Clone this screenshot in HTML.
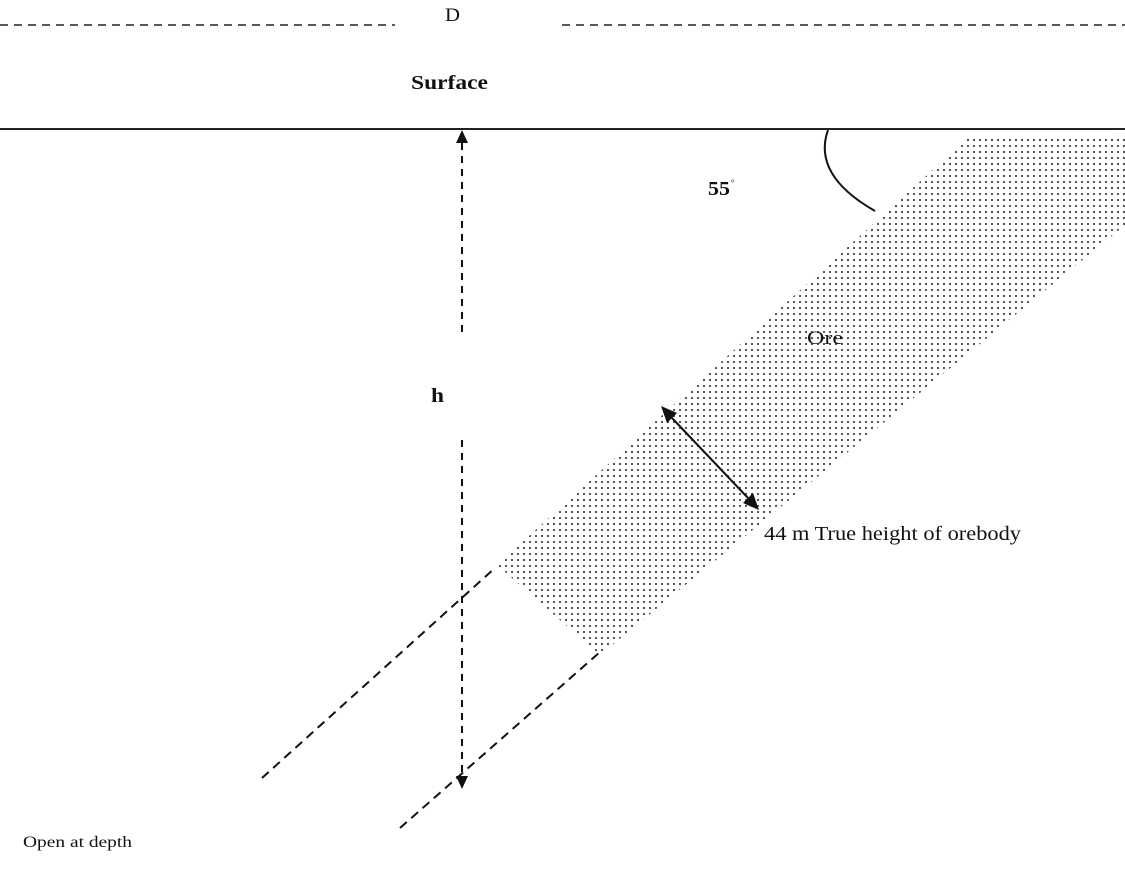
<!DOCTYPE html>
<html><head><style>
html,body{margin:0;padding:0;background:#fff;}
svg{display:block;}
text{font-family:"Liberation Serif",serif;fill:#111;}
</style></head><body>
<svg width="1125" height="896" viewBox="0 0 1125 896" xmlns="http://www.w3.org/2000/svg">
<defs>
<pattern id="dots" width="6" height="6" patternUnits="userSpaceOnUse">
<circle cx="2" cy="2" r="1.1" fill="#444"/>
</pattern>
</defs>
<!-- ore body -->
<polygon points="497,565 968,138 1125,135 1125,225 600,655" fill="url(#dots)"/>
<!-- top dashed -->
<line x1="0" y1="25" x2="395" y2="25" stroke="#222" stroke-width="1.5" stroke-dasharray="8,6"/>
<line x1="562" y1="25" x2="1125" y2="25" stroke="#222" stroke-width="1.5" stroke-dasharray="8,6"/>
<text x="445" y="21" font-size="19" textLength="15" lengthAdjust="spacingAndGlyphs">D</text>
<text x="411" y="89" font-size="20" font-weight="bold" textLength="77" lengthAdjust="spacingAndGlyphs">Surface</text>
<!-- surface line -->
<line x1="0" y1="129" x2="1125" y2="129" stroke="#222" stroke-width="2"/>
<!-- angle arc -->
<path d="M828,130 Q812,175 875,211" fill="none" stroke="#111" stroke-width="2"/>
<text x="708" y="195" font-size="20" font-weight="bold" textLength="22" lengthAdjust="spacingAndGlyphs">55</text>
<text x="731" y="186" font-size="9">°</text>
<!-- vertical h arrow -->
<line x1="462" y1="143" x2="462" y2="336" stroke="#111" stroke-width="2" stroke-dasharray="7,6"/>
<polygon points="462,130 456,143 468,143" fill="#111"/>
<line x1="462" y1="440" x2="462" y2="776" stroke="#111" stroke-width="2" stroke-dasharray="7,6"/>
<polygon points="462,789 456,776 468,776" fill="#111"/>
<text x="431" y="402" font-size="20" font-weight="bold" textLength="13" lengthAdjust="spacingAndGlyphs">h</text>
<!-- dashed extensions -->
<line x1="262" y1="778" x2="495" y2="568" stroke="#111" stroke-width="2" stroke-dasharray="9,6"/>
<line x1="400" y1="828" x2="600" y2="652" stroke="#111" stroke-width="2" stroke-dasharray="9,6"/>
<!-- true height arrow -->
<line x1="672" y1="418" x2="748" y2="498" stroke="#111" stroke-width="2"/>
<polygon points="661,406 677,413 667,423" fill="#111"/>
<polygon points="759,510 743,503 753,493" fill="#111"/>
<text x="807" y="344" font-size="19" textLength="36" lengthAdjust="spacingAndGlyphs">Ore</text>
<text x="764" y="540" font-size="20" textLength="257" lengthAdjust="spacingAndGlyphs">44 m True height of orebody</text>
<text x="23" y="847" font-size="16" textLength="109" lengthAdjust="spacingAndGlyphs">Open at depth</text>
</svg>
</body></html>
